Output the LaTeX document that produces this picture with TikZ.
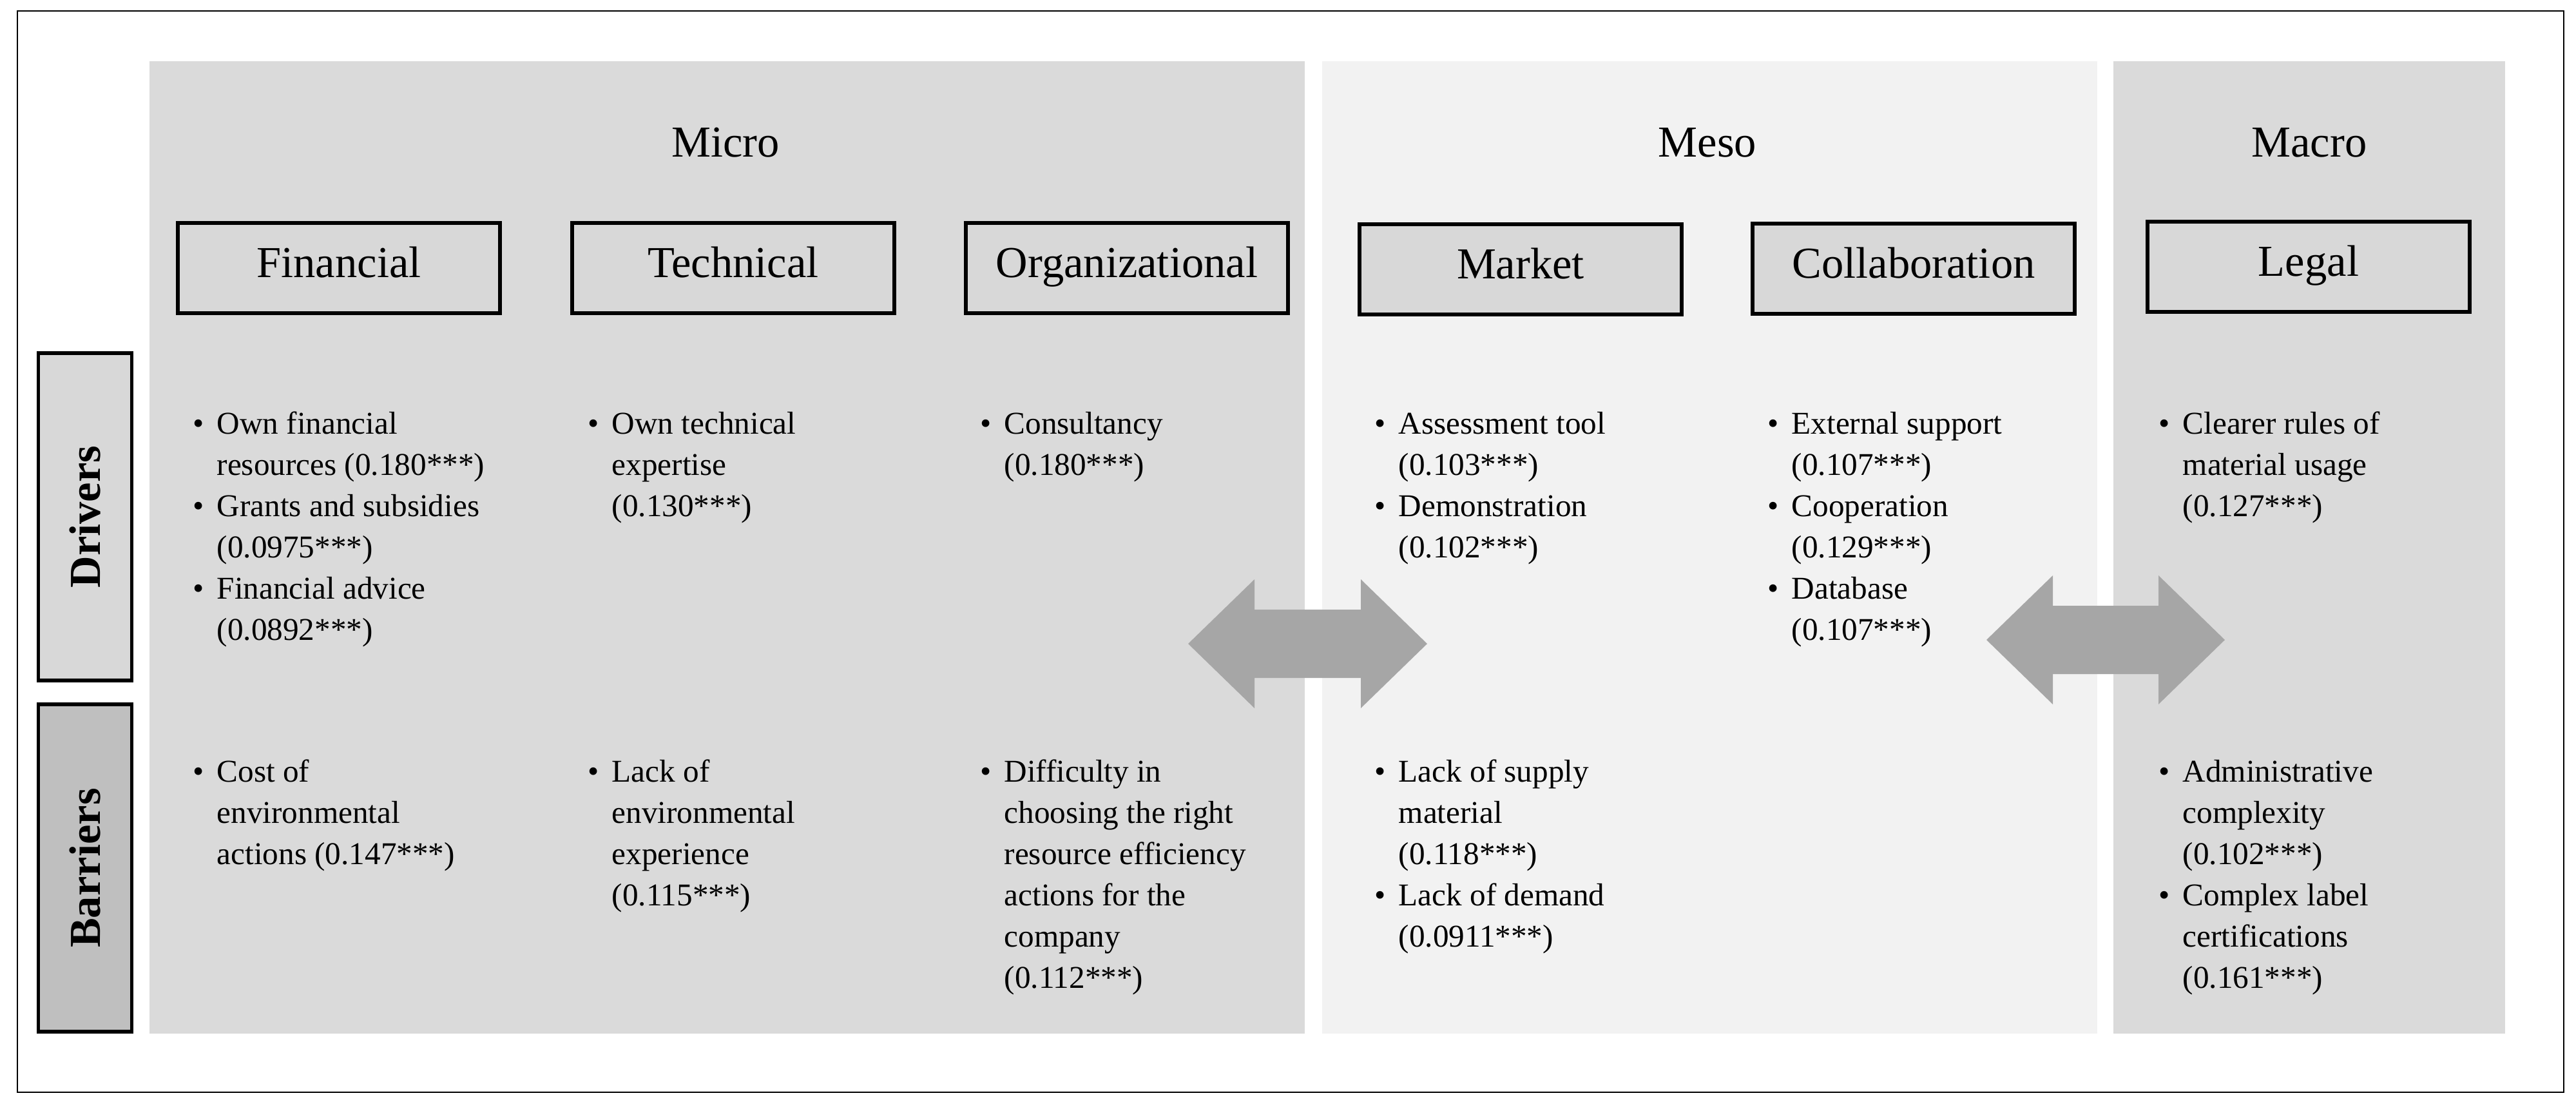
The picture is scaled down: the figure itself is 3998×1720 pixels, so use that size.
\documentclass[tikz,border=0pt]{standalone}
\usepackage{fontspec}
\setmainfont{Liberation Serif}
\usepackage{xcolor}

\definecolor{panelgray}{RGB}{218,218,218}
\definecolor{mesogray}{RGB}{242,242,242}
\definecolor{headgray}{RGB}{216,216,216}
\definecolor{bargray}{RGB}{191,191,191}
\definecolor{arrowgray}{RGB}{166,166,166}

\newcommand{\bul}{\makebox[0.37cm][l]{\textbullet}}
\newcommand{\lst}[1]{\begin{tabular}[t]{@{}l@{}l@{}}#1\end{tabular}}

\begin{document}
\begin{tikzpicture}[x=0.01cm, y=-0.01cm,
    hd/.style={draw, line width=1.7pt, fill=headgray, minimum width=4.99cm,
        minimum height=1.4cm, inner sep=0pt, text height=0.82em, text depth=0pt,
        font=\fontsize{19.5}{23}\selectfont},
    ttl/.style={anchor=base, inner sep=0pt, font=\fontsize{19.5}{23}\selectfont},
    side/.style={draw, line width=1.65pt, rotate=90, minimum width=5.08cm,
        minimum height=1.45cm, inner sep=0pt, font=\fontsize{19.5}{23}\selectfont\bfseries},
    txt/.style={anchor=base west, inner sep=0pt, font=\fontsize{14}{18.2}\selectfont}]
        \useasboundingbox (0,0) rectangle (3998,1720);

        % Frame and panels
        \draw[line width=0.8pt] (27,17) rectangle (3979,1695);
        \fill[panelgray] (232,95) rectangle (2025,1604);
        \fill[mesogray] (2052,95) rectangle (3255,1604);
        \fill[panelgray] (3280,95) rectangle (3888,1604);

        % Level titles
        \node[ttl] (micro) at (1126,243) {Micro};
        \node[ttl] (meso) at (2650,243) {Meso};
        \node[ttl] (macro) at (3584,243) {Macro};

        % Category boxes
        \node[hd] (fin) at (526,416) {Financial};
        \node[hd] (tech) at (1138,416) {Technical};
        \node[hd] (org) at (1749,416) {Organizational};
        \node[hd] (mkt) at (2360,418) {Market};
        \node[hd] (coll) at (2970,417) {Collaboration};
        \node[hd] (legal) at (3583,414) {Legal};

        % Row labels
        \node[side, fill=headgray] (drv) at (132,802) {Drivers};
        \node[side, fill=bargray] (bar) at (132,1347) {Barriers};

        % Double arrows
        \foreach \xa/\xb/\ym in {1844/2215/999, 3083/3453/993}
            \fill[arrowgray] (\xa,\ym) -- (\xa+103,\ym-100) -- (\xa+103,\ym-53)
                -- (\xb-103,\ym-53) -- (\xb-103,\ym-100) -- (\xb,\ym)
                -- (\xb-103,\ym+100) -- (\xb-103,\ym+53) -- (\xa+103,\ym+53)
                -- (\xa+103,\ym+100) -- cycle;

        % Drivers
        \node[txt] (fin-d) at (299,673) {\lst{\bul & Own financial\\ & resources (0.180***)\\
            \bul & Grants and subsidies\\ & (0.0975***)\\ \bul & Financial advice\\ & (0.0892***)}};
        \node[txt] (tech-d) at (912,673) {\lst{\bul & Own technical\\ & expertise\\ & (0.130***)}};
        \node[txt] (org-d) at (1521,673) {\lst{\bul & Consultancy\\ & (0.180***)}};
        \node[txt] (mkt-d) at (2133,673) {\lst{\bul & Assessment tool\\ & (0.103***)\\
            \bul & Demonstration\\ & (0.102***)}};
        \node[txt] (coll-d) at (2743,673) {\lst{\bul & External support\\ & (0.107***)\\
            \bul & Cooperation\\ & (0.129***)\\ \bul & Database\\ & (0.107***)}};
        \node[txt] (legal-d) at (3350,673) {\lst{\bul & Clearer rules of\\ & material usage\\ & (0.127***)}};

        % Barriers
        \node[txt] (fin-b) at (299,1213) {\lst{\bul & Cost of\\ & environmental\\ & actions (0.147***)}};
        \node[txt] (tech-b) at (912,1213) {\lst{\bul & Lack of\\ & environmental\\ & experience\\ & (0.115***)}};
        \node[txt] (org-b) at (1521,1213) {\lst{\bul & Difficulty in\\ & choosing the right\\
            & resource efficiency\\ & actions for the\\ & company\\ & (0.112***)}};
        \node[txt] (mkt-b) at (2133,1213) {\lst{\bul & Lack of supply\\ & material\\ & (0.118***)\\
            \bul & Lack of demand\\ & (0.0911***)}};
        \node[txt] (legal-b) at (3350,1213) {\lst{\bul & Administrative\\ & complexity\\ & (0.102***)\\
            \bul & Complex label\\ & certifications\\ & (0.161***)}};
    \end{tikzpicture}
\end{document}
